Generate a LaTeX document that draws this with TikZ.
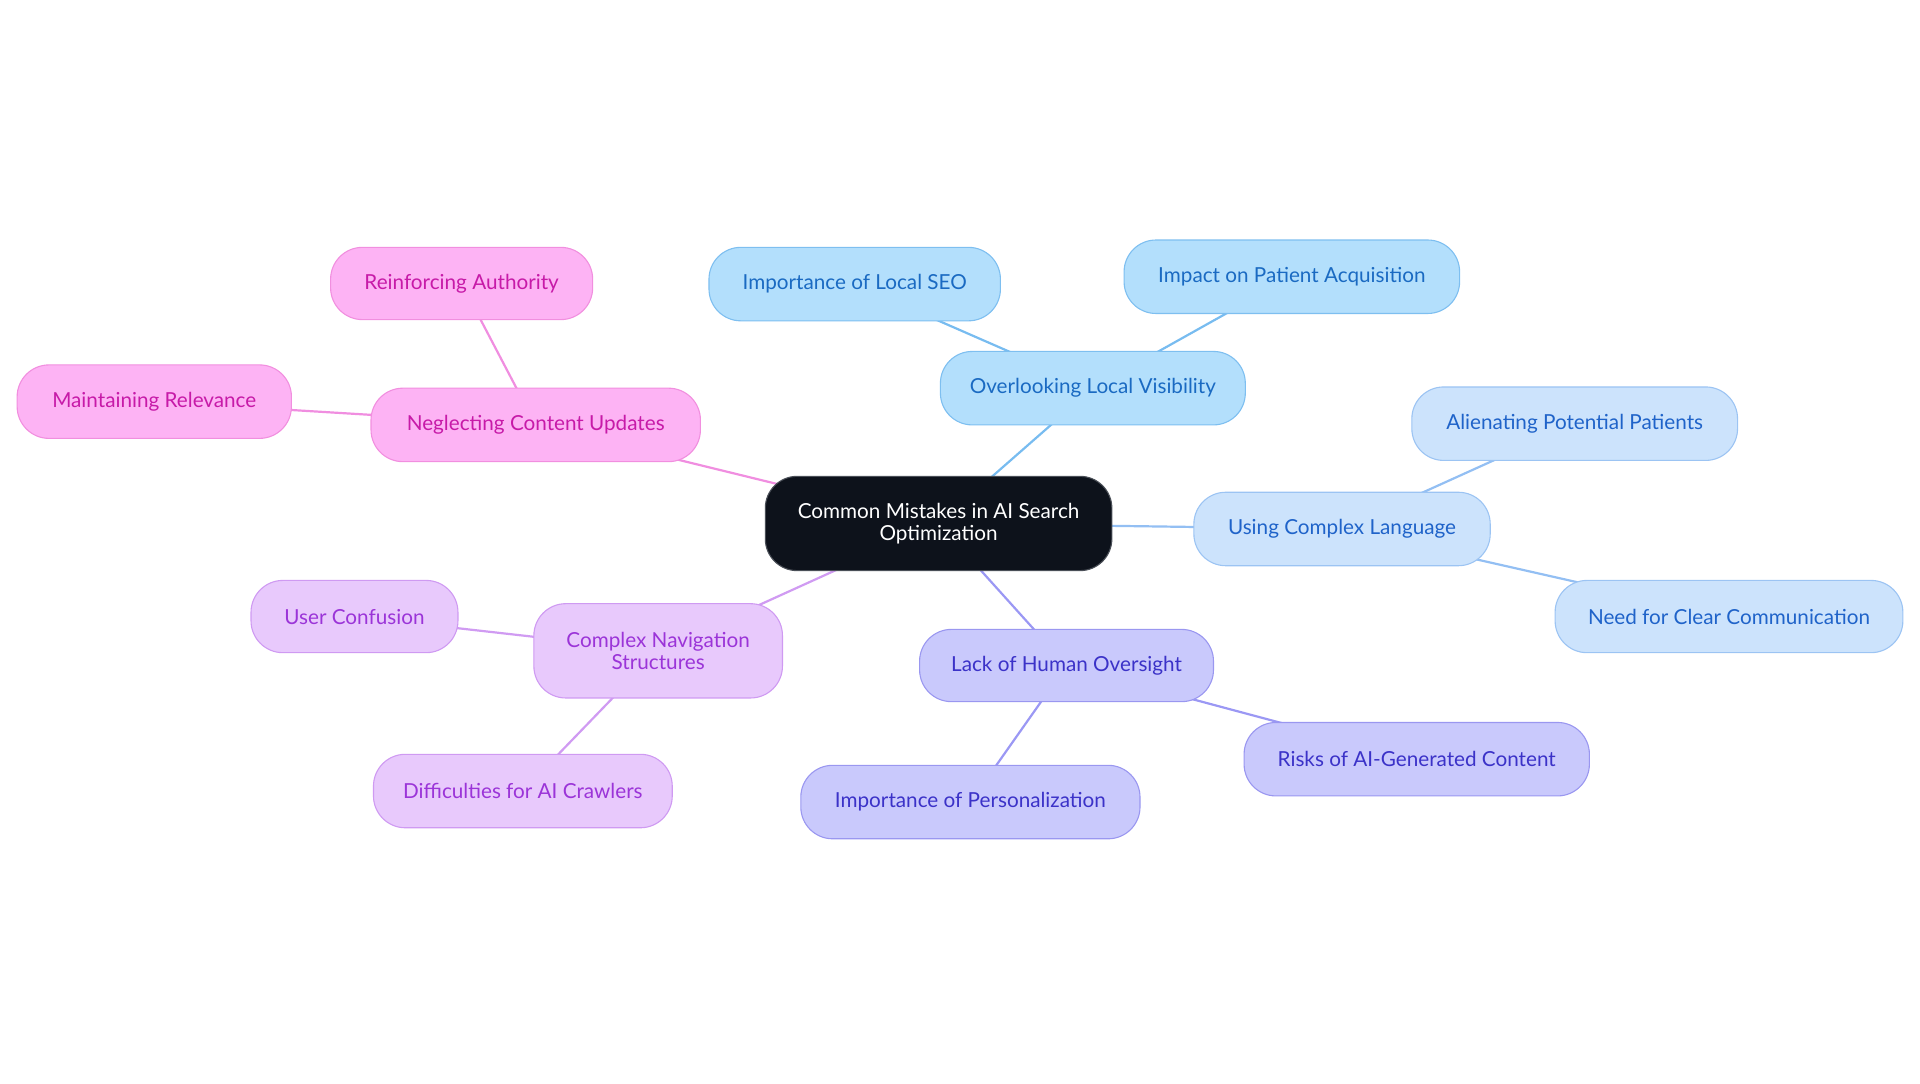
\documentclass[tikz,border=0pt]{standalone}
\usepackage{fontspec}
\setmainfont{Lato}
\usetikzlibrary{backgrounds}
\definecolor{cfill}{HTML}{0D121B}
\definecolor{cbord}{HTML}{4A4F57}
\definecolor{bfill}{HTML}{B3DFFC}
\definecolor{bbord}{HTML}{7EBFF0}
\definecolor{btext}{HTML}{1A6AC2}
\definecolor{bedge}{HTML}{78BCF0}
\definecolor{lbfill}{HTML}{CCE3FC}
\definecolor{lbbord}{HTML}{9CC4F3}
\definecolor{lbtext}{HTML}{1F63C9}
\definecolor{lbedge}{HTML}{93BFF3}
\definecolor{lvfill}{HTML}{C9C9FC}
\definecolor{lvbord}{HTML}{9A97F0}
\definecolor{lvtext}{HTML}{3B32C8}
\definecolor{lvedge}{HTML}{9B98F4}
\definecolor{pufill}{HTML}{E8C9FC}
\definecolor{pubord}{HTML}{CF9AF2}
\definecolor{putext}{HTML}{9B34D8}
\definecolor{puedge}{HTML}{D09BF2}
\definecolor{pkfill}{HTML}{FDB3F4}
\definecolor{pkbord}{HTML}{F18FDF}
\definecolor{pktext}{HTML}{C71AA8}
\definecolor{pkedge}{HTML}{F08EE0}
\tikzset{
  box/.style={rounded corners=26pt, line width=0.9pt, align=center, inner sep=0pt,
    font=\fontsize{16.9}{18}\selectfont},
  rootbox/.style={box, fill=cfill, draw=cbord, text=white},
  bluebox/.style={box, fill=bfill, draw=bbord, text=btext},
  lbluebox/.style={box, fill=lbfill, draw=lbbord, text=lbtext},
  lavbox/.style={box, fill=lvfill, draw=lvbord, text=lvtext},
  purbox/.style={box, fill=pufill, draw=pubord, text=putext},
  pinkbox/.style={box, fill=pkfill, draw=pkbord, text=pktext},
  edge/.style={line width=1.8pt},
}
\begin{document}
\begin{tikzpicture}[x=1pt,y=-1pt]
\useasboundingbox (0,0) rectangle (1568,884.5);
\node[rootbox, minimum width=283pt, minimum height=77pt] (c) at (766.5,427.5) {Common Mistakes in AI Search\\Optimization};
\node[bluebox, minimum width=249pt, minimum height=60pt] (o) at (892.5,317) {Overlooking Local Visibility};
\node[bluebox, minimum width=238pt, minimum height=60pt] (o1) at (698,232) {Importance of Local SEO};
\node[bluebox, minimum width=274pt, minimum height=60pt] (o2) at (1055,226) {Impact on Patient Acquisition};
\node[lbluebox, minimum width=242pt, minimum height=60pt] (u) at (1096,432) {Using Complex Language};
\node[lbluebox, minimum width=266pt, minimum height=60pt] (u1) at (1286,346) {Alienating Potential Patients};
\node[lbluebox, minimum width=284pt, minimum height=59pt] (u2) at (1412,503.5) {Need for Clear Communication};
\node[lavbox, minimum width=240pt, minimum height=59pt] (l) at (871,543.5) {Lack of Human Oversight};
\node[lavbox, minimum width=282pt, minimum height=60pt] (l1) at (1157,620) {Risks of AI-Generated Content};
\node[lavbox, minimum width=277pt, minimum height=60pt] (l2) at (792.5,655) {Importance of Personalization};
\node[purbox, minimum width=203pt, minimum height=77pt] (n) at (537.5,531.5) {Complex Navigation\\Structures};
\node[purbox, minimum width=169pt, minimum height=59pt] (n1) at (289.5,503.5) {User Confusion};
\node[purbox, minimum width=244pt, minimum height=60pt] (n2) at (427,646) {Difficulties for AI Crawlers};
\node[pinkbox, minimum width=269pt, minimum height=60pt] (p) at (437.5,347) {Neglecting Content Updates};
\node[pinkbox, minimum width=214pt, minimum height=59pt] (p1) at (377,231.5) {Reinforcing Authority};
\node[pinkbox, minimum width=224pt, minimum height=60pt] (p2) at (126,328) {Maintaining Relevance};
\begin{scope}[on background layer]
\draw[edge, bedge] (c.center) -- (o.center);
\draw[edge, bedge] (o.center) -- (o1.center);
\draw[edge, bedge] (o.center) -- (o2.center);
\draw[edge, lbedge] (c.center) -- (u.center);
\draw[edge, lbedge] (u.center) -- (u1.center);
\draw[edge, lbedge] (u.center) -- (u2.center);
\draw[edge, lvedge] (c.center) -- (l.center);
\draw[edge, lvedge] (l.center) -- (l1.center);
\draw[edge, lvedge] (l.center) -- (l2.center);
\draw[edge, puedge] (c.center) -- (n.center);
\draw[edge, puedge] (n.center) -- (n1.center);
\draw[edge, puedge] (n.center) -- (n2.center);
\draw[edge, pkedge] (c.center) -- (p.center);
\draw[edge, pkedge] (p.center) -- (p1.center);
\draw[edge, pkedge] (p.center) -- (p2.center);
\end{scope}
\end{tikzpicture}
\end{document}
